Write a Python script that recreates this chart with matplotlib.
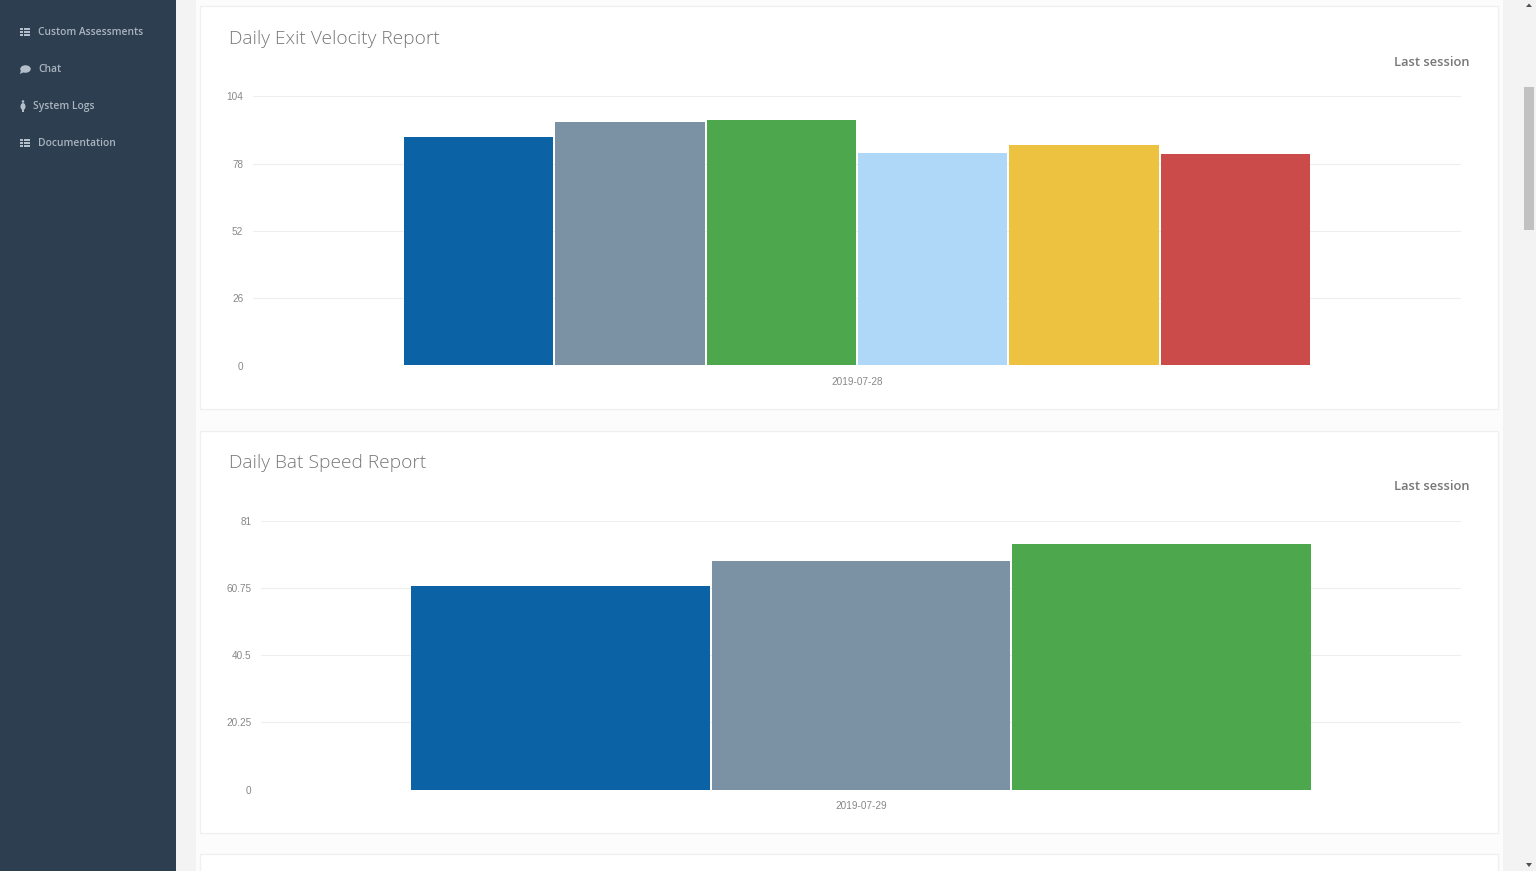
import matplotlib
matplotlib.use('Agg')
import matplotlib.pyplot as plt
from matplotlib.patches import Rectangle, Ellipse

W, H = 1536, 871

menu_labels = ['Custom Assessments', 'Chat', 'System Logs', 'Documentation']
menu_icons = ['grid', 'chat', 'person', 'grid']

bar_colors = ['#0b62a4', '#7a92a3', '#4da74d', '#afd8f8', '#edc240', '#cb4b4b']

exit_date = ['2019-07-28']
exit_values = [88.3, 94.3, 94.9, 82.0, 85.2, 81.6]
exit_ticks = [0, 26, 52, 78, 104]
exit_ticklabels = ['0', '26', '52', '78', '104']

bat_date = ['2019-07-29']
bat_values = [61.3, 68.8, 73.9]
bat_ticks = [0, 20.25, 40.5, 60.75, 81]
bat_ticklabels = ['0', '20.25', '40.5', '60.75', '81']


def box(x0, y0, x1, y1):
    # pixel box (top left origin) -> figure coords
    return [x0 / W, 1 - y1 / H, (x1 - x0) / W, (y1 - y0) / H]


def draw_icon(bg, kind, x, y):
    c = '#b4bfca'
    if kind == 'grid':
        for i in range(3):
            for j in range(3):
                bg.add_patch(Rectangle((x + i * 3.7, y - 4 + j * 2.9), 2.9, 2.3, fc=c, lw=0))
    elif kind == 'chat':
        bg.add_patch(Ellipse((x + 5.5, y), 10.5, 7.5, fc=c, lw=0))
        bg.add_patch(plt.Polygon([(x + 1, y + 1), (x + 4, y + 3), (x, y + 5)], fc=c, lw=0))
    else:
        bg.add_patch(Ellipse((x + 3, y - 4.5), 2.6, 2.6, fc=c, lw=0))
        bg.add_patch(Ellipse((x + 3, y + 0.5), 5, 7, fc=c, lw=0))
        bg.add_patch(Rectangle((x + 2, y + 2), 2, 4, fc=c, lw=0))


def draw_panel(bg, fig, top, bottom, title, ax_left, date, values, ticks, ticklabels, ymax):
    bg.add_patch(Rectangle((200, top + 0.5), 1298, bottom - top, fc='white', ec='#f0f0f0', lw=1))
    bg.text(229, top + 33, title, fontsize=13.8, color='#777777', family='Open Sans',
            fontweight='light', va='center', ha='left')
    bg.text(1470, top + 56.5, 'Last session', fontsize=9.3, color='#777777', family='Open Sans',
            fontweight='semibold', va='center', ha='right')

    ax = fig.add_axes(box(ax_left, top + 90.5, 1461, top + 359.5))
    ax.patch.set_alpha(0)
    n = len(values)
    group = 0.752
    step = group / n
    # 2px white gap between the bars
    width = step - 2 / (1461 - ax_left)
    for i, v in enumerate(values):
        pos = -group / 2 + step * (i + 0.5)
        ax.bar(pos, v, width=width, color=bar_colors[i], linewidth=0, zorder=3)
    ax.set_xlim(-0.5, 0.5)
    ax.set_ylim(0, ymax)
    ax.set_yticks(ticks)
    ax.set_yticklabels(ticklabels, family='Liberation Sans', fontsize=7.2, color='#888888')
    ax.set_xticks([0])
    ax.set_xticklabels(date, family='Liberation Sans', fontsize=7.2, color='#888888')
    ax.tick_params(axis='both', length=0)
    ax.tick_params(axis='y', pad=7)
    ax.tick_params(axis='x', pad=8)
    ax.grid(axis='y', color='#eeeeee', lw=0.8, zorder=0)
    ax.set_axisbelow(True)
    for s in ax.spines.values():
        s.set_visible(False)
    return ax


fig = plt.figure(figsize=(W / 100, H / 100), dpi=100, facecolor='#f3f3f3')

bg = fig.add_axes([0, 0, 1, 1])
bg.set_xlim(0, W)
bg.set_ylim(H, 0)
bg.axis('off')

# page, sidebar, scrollbar
bg.add_patch(Rectangle((196, 0), 1307, H, fc='#fcfcfc', lw=0))
bg.add_patch(Rectangle((0, 0), 176, H, fc='#2c3e50', lw=0))
bg.add_patch(Rectangle((1524, 87), 10, 143, fc='#c1c1c1', lw=0))
bg.add_patch(plt.Polygon([(1526, 7), (1532, 7), (1529, 3.5)], fc='#505050', lw=0))
bg.add_patch(plt.Polygon([(1526, 863), (1532, 863), (1529, 867)], fc='#505050', lw=0))

menu_y = [32, 69, 106, 143]
menu_x = [38, 38, 33, 38]
for label, icon, x, y in zip(menu_labels, menu_icons, menu_x, menu_y):
    draw_icon(bg, icon, 20, y)
    bg.text(x, y + 0.5, label, fontsize=7.4, color='#aab4be', family='Open Sans',
            fontweight='semibold', va='center', ha='left')

draw_panel(bg, fig, 6, 408.5, 'Daily Exit Velocity Report', 253, exit_date, exit_values,
           exit_ticks, exit_ticklabels, 104)
draw_panel(bg, fig, 430, 832.5, 'Daily Bat Speed Report', 261, bat_date, bat_values,
           bat_ticks, bat_ticklabels, 81)

# next panel, cut off by the window
bg.add_patch(Rectangle((200, 853.5), 1298, 40, fc='white', ec='#f0f0f0', lw=1))

fig.savefig('out.png', dpi=100, facecolor=fig.get_facecolor())
